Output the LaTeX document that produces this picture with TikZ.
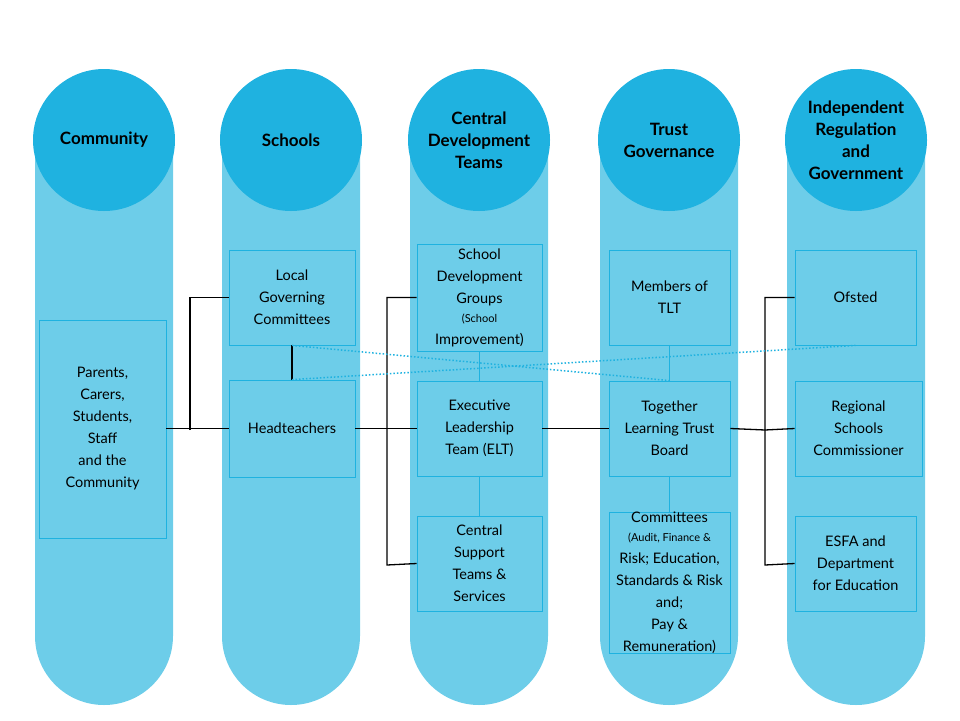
\documentclass[tikz,border=0pt]{standalone}
\usepackage{fontspec}
\setmainfont{Lato}
\definecolor{pill}{HTML}{6DCDE9}
\definecolor{head}{HTML}{1FB2E0}
\begin{document}
\begin{tikzpicture}[x=1pt,y=-1pt,
  hd/.style={circle,fill=head,minimum size=142pt,inner sep=0pt,align=center,font=\fontsize{17}{22}\selectfont\bfseries},
  bx/.style={draw=head,line width=0.8pt,fill=pill,inner sep=0pt,align=center,font=\fontsize{14.5}{22}\selectfont},
  conn/.style={black,line width=1.3pt},
  bl/.style={head,line width=1.3pt},
  dt/.style={head,line width=1.5pt,dotted}]
\useasboundingbox (0,0) rectangle (960,720);
\foreach \x in {104,291,479,669,856}{\fill[pill,rounded corners=69pt] (\x-69,80) rectangle (\x+69,705);}
\node[hd] (h1) at (104,140) {Community};
\node[hd] (h2) at (291,140) {Schools};
\node[hd] (h3) at (479,140) {Central\\Development\\Teams};
\node[hd] (h4) at (669,140) {Trust\\Governance};
\node[hd] (h5) at (856,140) {Independent\\Regulation\\and\\Government};
\node[bx,minimum width=127pt,minimum height=218pt] (par) at (102.5,429) {Parents,\\Carers,\\Students,\\Staff\\and the\\Community};
\node[bx,minimum width=126pt,minimum height=95pt] (lgc) at (292,297.5) {Local\\Governing\\Committees};
\node[bx,minimum width=126pt,minimum height=97pt] (ht) at (292,428.5) {Headteachers};
\node[bx,minimum width=125pt,minimum height=107pt] (sdg) at (479.5,297.5) {School\\Development\\Groups\\[-3pt]\fontsize{11}{17}\selectfont(School\\Improvement)};
\node[bx,minimum width=125pt,minimum height=95pt] (elt) at (479.5,428.5) {Executive\\Leadership\\Team (ELT)};
\node[bx,minimum width=125pt,minimum height=95pt] (cst) at (479.5,563.5) {Central\\Support\\Teams \&\\Services};
\node[bx,minimum width=121pt,minimum height=95pt] (mem) at (669.5,297.5) {Members of\\TLT};
\node[bx,minimum width=121pt,minimum height=95pt] (tb) at (669.5,428.5) {Together\\Learning Trust\\Board};
\node[bx,minimum width=121pt,minimum height=134pt] (com) at (669.5,583) {Committees\\[-3pt]\fontsize{11}{18}\selectfont(Audit, Finance \&\\Risk; Education,\\Standards \& Risk\\and;\\Pay \&\\Remuneration)};
\node[bx,minimum width=121pt,minimum height=95pt] (ofs) at (855.5,297.5) {Ofsted};
\node[bx,minimum width=127pt,minimum height=95pt] (rsc) at (858.5,428.5) {Regional\\Schools\\Commissioner};
\node[bx,minimum width=121pt,minimum height=95pt] (esfa) at (855.5,563.5) {ESFA and\\Department\\for Education};
\coordinate (b1) at (190,430);
\coordinate (b2) at (387,565);
\coordinate (b3) at (765,430);
\coordinate (b4) at (765,565);
\draw[conn] (par.east |- ht) -- (ht.west);
\draw[conn] (b1) |- (lgc.west);
\draw[conn] (lgc.south) -- (ht.north);
\draw[conn] (ht.east) -- (elt.west);
\draw[conn] (sdg.west) -| (b2) -- (cst.west);
\draw[conn] (elt.east) -- (tb.west);
\draw[conn] (tb.east) -- (b3);
\draw[conn] (ofs.west) -| (b4) -- (esfa.west);
\draw[conn] (b3) -- (rsc.west);
\draw[bl] (sdg.south) -- (elt.north);
\draw[bl] (elt.south) -- (cst.north);
\draw[bl] (mem.south) -- (tb.north);
\draw[bl] (tb.south) -- (com.north);
\draw[dt] (lgc.south) -- (tb.north);
\draw[dt] (ht.north) -- (ofs.south);
\end{tikzpicture}
\end{document}
